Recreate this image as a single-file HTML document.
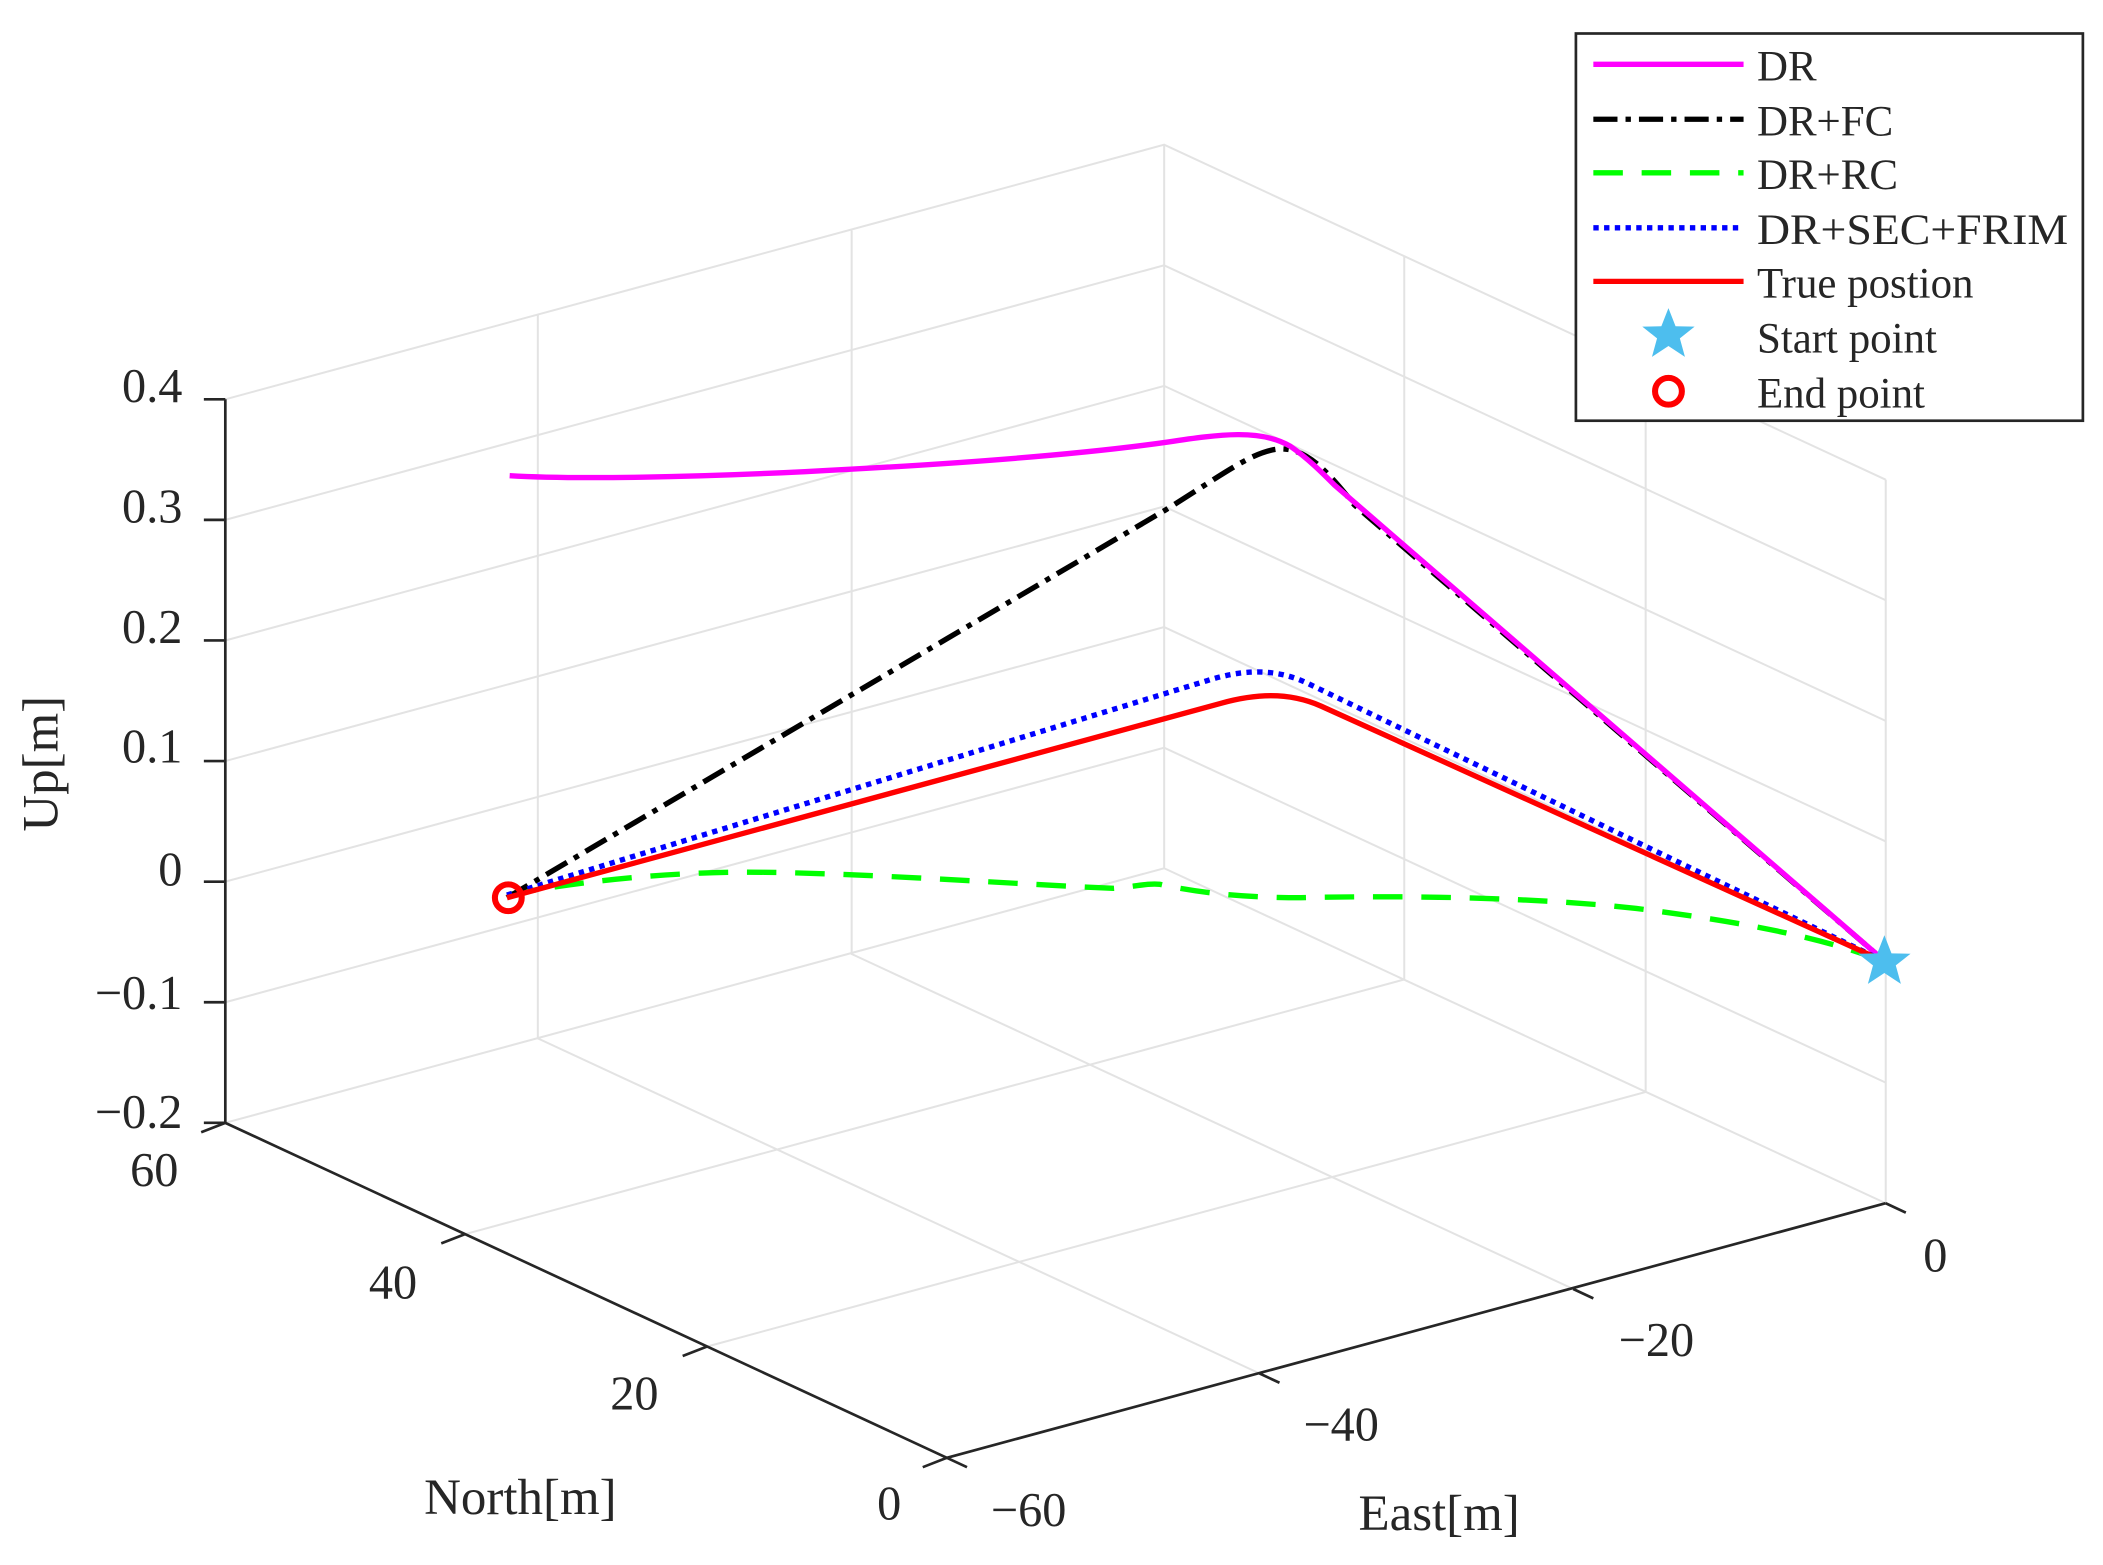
<!DOCTYPE html>
<html><head><style>html,body{margin:0;padding:0;background:#fff}svg{display:block}</style></head><body>
<svg width="2103" height="1565" viewBox="0 0 1568 1168" preserveAspectRatio="none" xmlns="http://www.w3.org/2000/svg" font-family="Liberation Serif, serif">
<rect width="1568" height="1168" fill="#fff"/>
<g stroke="#e3e3e3" stroke-width="1.5" fill="none">
<path d="M168,298 L868,108 L1406,358 M168,388 L868,198 L1406,448 M168,478 L868,288 L1406,538 M168,568 L868,378 L1406,628 M168,658 L868,468 L1406,718 M168,748 L868,558 L1406,808"/>
<path d="M939,1025 L401,775 L401,235 M1173,962 L635,712 L635,172"/>
<path d="M527,1005 L1227,815 L1227,275 M347,921 L1047,731 L1047,191"/>
<path d="M168,838 L868,648 L1406,898 M868,648 L868,108 M1406,898 L1406,358"/>
</g>
<g stroke="#262626" stroke-width="2" fill="none">
<path d="M168,298 L168,838 L706,1088 L1406,898"/>
<path d="M168,298 L152,298 M168,388 L152,388 M168,478 L152,478 M168,568 L152,568 M168,658 L152,658 M168,748 L152,748 M168,838 L152,838"/>
<path d="M168,838 L150,845 M347,921 L329,928 M527,1005 L509,1012 M706,1088 L688,1095"/>
<path d="M706,1088 L721,1095 M939,1025 L954,1032 M1173,962 L1188,969 M1406,898 L1421,905"/>
</g>
<g font-size="36" fill="#262626">
<g text-anchor="end">
<text x="136" y="300">0.4</text><text x="136" y="390">0.3</text><text x="136" y="480">0.2</text>
<text x="136" y="569">0.1</text><text x="136" y="661">0</text><text x="136" y="753">−0.1</text><text x="136" y="842">−0.2</text>
</g>
<g text-anchor="middle">
<text x="115" y="885">60</text><text x="293" y="969">40</text><text x="473" y="1052">20</text><text x="663" y="1134">0</text>
<text x="767" y="1139">−60</text><text x="1000" y="1075">−40</text><text x="1235" y="1012">−20</text><text x="1443" y="949">0</text>
</g>
<g text-anchor="middle" font-size="38">
<text x="388" y="1130">North[m]</text><text x="1073" y="1142">East[m]</text>
<text transform="translate(43,570) rotate(-90)">Up[m]</text>
</g>
</g>
<g fill="none" stroke-width="4" stroke-linejoin="round">
<path stroke="#00ff00" stroke-dasharray="22,14" d="M378,668 C430,658 500,650 570,651 C650,652 760,660 830,663 C845,662 855,659 865,660 C900,668 940,670 970,670 C1050,668 1150,670 1220,678 C1300,688 1360,700 1406,718"/>
<path stroke="#000" stroke-dasharray="18,6,4,6" d="M378,670 L870,380 C915,352 935,336 955,335 C975,335 990,352 1010,377 L1406,718"/>
<path stroke="#ff00ff" d="M380,355 C430,358 520,356 600,352 C700,347 800,340 870,330 C910,324 940,320 962,333 C975,342 985,352 995,362 L1406,718"/>
<path stroke="#0000ff" stroke-dasharray="4,4" d="M378,668 L900,508 C925,500 950,498 975,510 L1406,718"/>
<path stroke="#ff0000" d="M378,670 L910,525 C935,518 960,516 985,527 L1406,718"/>
</g>
<circle cx="379" cy="670" r="10" fill="none" stroke="#ff0000" stroke-width="4.5"/>
<polygon fill="#4dbeee" transform="translate(1405,718)" points="0,-20 5.3,-6.5 19.5,-6.2 8.5,2.5 12.3,16.3 0,8.2 -12.3,16.3 -8.5,2.5 -19.5,-6.2 -5.3,-6.5"/>
<rect x="1175" y="25" width="378" height="289" fill="#fff" stroke="#262626" stroke-width="2"/>
<g stroke-width="4" fill="none">
<line x1="1188" y1="48" x2="1300" y2="48" stroke="#ff00ff"/>
<line x1="1188" y1="89" x2="1300" y2="89" stroke="#000" stroke-dasharray="18,6,4,6"/>
<line x1="1188" y1="129" x2="1300" y2="129" stroke="#00ff00" stroke-dasharray="22,14"/>
<line x1="1188" y1="170" x2="1300" y2="170" stroke="#0000ff" stroke-dasharray="4,4"/>
<line x1="1188" y1="210" x2="1300" y2="210" stroke="#ff0000"/>
</g>
<polygon fill="#4dbeee" transform="translate(1244,250)" points="0,-20 5.3,-6.5 19.5,-6.2 8.5,2.5 12.3,16.3 0,8.2 -12.3,16.3 -8.5,2.5 -19.5,-6.2 -5.3,-6.5"/>
<circle cx="1244" cy="292" r="10" fill="none" stroke="#ff0000" stroke-width="4.5"/>
<g font-size="32" fill="#262626">
<text x="1310" y="60">DR</text><text x="1310" y="101">DR+FC</text><text x="1310" y="141">DR+RC</text>
<text x="1310" y="182" textLength="232" lengthAdjust="spacingAndGlyphs">DR+SEC+FRIM</text><text x="1310" y="222">True postion</text>
<text x="1310" y="263">Start point</text><text x="1310" y="304">End point</text>
</g>
</svg>
</body></html>
